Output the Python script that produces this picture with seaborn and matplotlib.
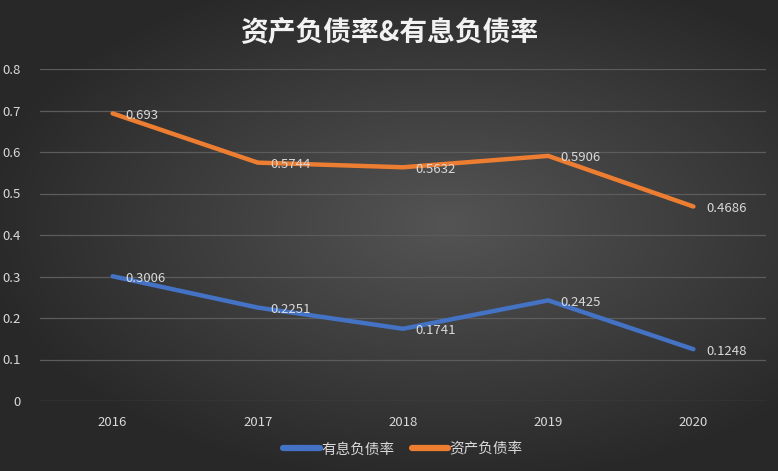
import numpy as np
import pandas as pd
import matplotlib
matplotlib.use("Agg")
import matplotlib.pyplot as plt
import seaborn as sns

years = ["2016", "2017", "2018", "2019", "2020"]
interest_debt = [0.3006, 0.2251, 0.1741, 0.2425, 0.1248]
asset_debt = [0.693, 0.5744, 0.5632, 0.5906, 0.4686]
interest_labels = ["0.3006", "0.2251", "0.1741", "0.2425", "0.1248"]
asset_labels = ["0.693", "0.5744", "0.5632", "0.5906", "0.4686"]
series_names = ["有息负债率", "资产负债率"]
yticks = [0, 0.1, 0.2, 0.3, 0.4, 0.5, 0.6, 0.7, 0.8]
ytick_labels = ["0", "0.1", "0.2", "0.3", "0.4", "0.5", "0.6", "0.7", "0.8"]

sns.set_style("dark")
plt.rcParams["font.family"] = ["Noto Sans CJK SC", "DejaVu Sans"]

df = pd.DataFrame({
    "year": years * 2,
    "value": interest_debt + asset_debt,
    "series": [series_names[0]] * 5 + [series_names[1]] * 5,
})

fig = plt.figure(figsize=(7.78, 4.71), dpi=100)

# radial gradient background
bg = fig.add_axes([0, 0, 1, 1], zorder=-10)
gx, gy = np.meshgrid(np.linspace(-1, 1, 400), np.linspace(-1, 1, 300))
r = np.sqrt(((gx - 0.15) / 1.2) ** 2 + ((gy + 0.05) / 1.1) ** 2)
r = np.clip(r, 0, 1)
shade = 0.33 - 0.17 * r
bg.imshow(np.dstack([shade, shade, shade]), aspect="auto", extent=[0, 1, 0, 1])
bg.axis("off")

ax = fig.add_axes([40 / 778, 70 / 471, 726 / 778, 332 / 471])
ax.patch.set_alpha(0)

sns.lineplot(
    data=df, x="year", y="value", hue="series",
    palette=["#4472C4", "#ED7D31"], linewidth=3.2,
    ax=ax, sort=False, solid_capstyle="round"
)

for vals, labs in [(interest_debt, interest_labels), (asset_debt, asset_labels)]:
    for i, (v, t) in enumerate(zip(vals, labs)):
        ax.annotate(t, (i, v), xytext=(9, -1.5), textcoords="offset points",
                    ha="left", va="center", color="#d9d9d9", fontsize=9.5)

ax.set_xlim(-0.5, 4.5)
ax.set_ylim(0, 0.8)
ax.set_yticks(yticks)
ax.set_yticklabels(ytick_labels)
ax.grid(axis="y", color="#5c5c5c", linewidth=0.9)
ax.grid(axis="x", visible=False)
for s in ax.spines.values():
    s.set_visible(False)
ax.tick_params(colors="#d9d9d9", labelsize=9.5, length=0)
ax.tick_params(axis="x", pad=11)
ax.tick_params(axis="y", pad=14)
ax.set_xlabel("")
ax.set_ylabel("")

leg = ax.legend(loc="upper center", bbox_to_anchor=(0.5, -0.085), ncol=2,
                frameon=False, fontsize=10.5, handlelength=2.5,
                columnspacing=1.2, handletextpad=0.1)
for t in leg.get_texts():
    t.set_color("#d9d9d9")
for h in leg.get_lines():
    h.set_linewidth(4.5)

fig.text(0.5, 1 - 32 / 471, "资产负债率&有息负债率", ha="center", va="center",
         color="#f2f2f2", fontsize=20, fontweight="bold")

plt.savefig("out.png", dpi=100)
